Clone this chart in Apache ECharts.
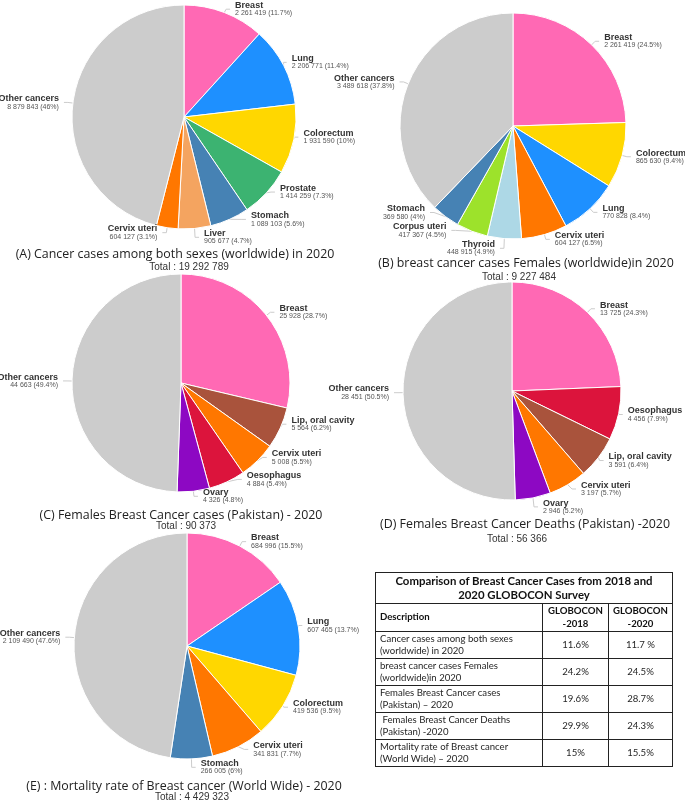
<!DOCTYPE html>
<html>
<head>
<meta charset="utf-8">
<script src="https://cdn.jsdelivr.net/npm/echarts@6/dist/echarts.min.js"></script>
<style>
  html, body { margin: 0; padding: 0; background: #fff; }
  #chart { position: absolute; left: 0; top: 0; width: 685px; height: 801px; }
  #cmp { position: absolute; left: 375px; top: 572px; width: 298px; border-collapse: collapse;
         font-family: Lato, 'Open Sans', sans-serif; color: #262626; border: 1.5px solid #111; }
  #cmp td { border: 1px solid #222; padding: 0 4px; font-size: 9.6px; line-height: 12.5px; }
  #cmp .cap { font-weight: bold; font-size: 11.4px; text-align: center; height: 30px; line-height: 14px; color: #111; }
  #cmp .hd { font-weight: bold; height: 27px; color: #111; }
  #cmp .num { text-align: center; }
  #cmp .row td { height: 26px; }
</style>
</head>
<body>
<div id="chart"></div>
<table id="cmp"></table>
<script>
// A: cancer cases, both sexes, worldwide 2020
var namesA = ['Breast', 'Lung', 'Colorectum', 'Prostate', 'Stomach', 'Liver', 'Cervix uteri', 'Other cancers'];
var valuesA = [2261419, 2206771, 1931590, 1414259, 1089103, 905677, 604127, 8879843];
// B: females worldwide 2020
var namesB = ['Breast', 'Colorectum', 'Lung', 'Cervix uteri', 'Thyroid', 'Corpus uteri', 'Stomach', 'Other cancers'];
var valuesB = [2261419, 865630, 770828, 604127, 448915, 417367, 369580, 3489618];
// C: females cases Pakistan 2020
var namesC = ['Breast', 'Lip, oral cavity', 'Cervix uteri', 'Oesophagus', 'Ovary', 'Other cancers'];
var valuesC = [25928, 5564, 5008, 4884, 4326, 44663];
// D: females deaths Pakistan 2020
var namesD = ['Breast', 'Oesophagus', 'Lip, oral cavity', 'Cervix uteri', 'Ovary', 'Other cancers'];
var valuesD = [13725, 4456, 3591, 3197, 2946, 28451];
// E: mortality worldwide 2020
var namesE = ['Breast', 'Lung', 'Colorectum', 'Cervix uteri', 'Stomach', 'Other cancers'];
var valuesE = [684996, 607465, 419536, 341831, 266005, 2109490];

var chartTitles = [
    '(A) Cancer cases among both sexes (worldwide) in 2020',
    '(B) breast cancer cases Females (worldwide)in 2020',
    '(C) Females Breast Cancer cases (Pakistan) - 2020',
    '(D) Females Breast Cancer Deaths (Pakistan) -2020',
    '(E) : Mortality rate of Breast cancer (World Wide) - 2020'
];

// comparison table
var tableCaption = ['Comparison of Breast Cancer Cases from 2018 and', '2020 GLOBOCON Survey'];
var tableHeader = ['Description', 'GLOBOCON<br>-2018', 'GLOBOCON<br>-2020'];
var tableDesc = [
    'Cancer cases among both sexes (worldwide) in 2020',
    'breast cancer cases Females (worldwide)in 2020',
    'Females Breast Cancer cases (Pakistan) \u2013 2020',
    '\u00a0Females Breast Cancer Deaths (Pakistan) -2020',
    'Mortality rate of Breast cancer (World Wide) \u2013 2020'
];
var table2018 = ['11.6%', '24.2%', '19.6%', '29.9%', '15%'];
var table2020 = ['11.7 %', '24.5%', '28.7%', '24.3%', '15.5%'];

var colorMap = {
    'Breast': '#ff69b4',
    'Lung': '#1e90ff',
    'Colorectum': '#ffd700',
    'Prostate': '#3cb371',
    'Stomach': '#4682b4',
    'Liver': '#f4a460',
    'Cervix uteri': '#ff7700',
    'Other cancers': '#cccccc',
    'Thyroid': '#add8e6',
    'Corpus uteri': '#9de22b',
    'Lip, oral cavity': '#a9533c',
    'Oesophagus': '#dc143c',
    'Ovary': '#8d08c3'
};

// 数字加空格分隔
function fmtNum(v) {
    return String(v).replace(/\B(?=(\d{3})+(?!\d))/g, ' ');
}
function sum(arr) {
    var s = 0;
    for (var i = 0; i < arr.length; i++) { s += arr[i]; }
    return s;
}

// bottom: lowest y the labels may reach (keeps them above the caption)
function makePie(names, values, cx, cy, r, bottom) {
    var total = sum(values);
    var data = [];
    for (var i = 0; i < names.length; i++) {
        data.push({ name: names[i], value: values[i], itemStyle: { color: colorMap[names[i]] } });
    }
    return {
        type: 'pie',
        left: 1,
        top: 0,
        width: 683,
        height: bottom,
        center: [cx - 1, cy],
        radius: r,
        startAngle: 90,
        clockwise: true,
        animation: false,
        itemStyle: { borderColor: '#fff', borderWidth: 1 },
        label: {
            show: true,
            overflow: 'none',
            bleedMargin: 0,
            formatter: function (p) {
                var pct = Math.round(p.value / total * 1000) / 10;
                return '{b|' + p.name + '}\n{c|' + fmtNum(p.value) + ' (' + pct + '%)}';
            },
            rich: {
                b: { fontFamily: 'Liberation Sans, Arial', fontWeight: 'bold', fontSize: 9, color: '#333', lineHeight: 8.4 },
                c: { fontFamily: 'Liberation Sans, Arial', fontSize: 7, color: '#555', lineHeight: 7.4 }
            }
        },
        labelLine: { length: 5, length2: 4, lineStyle: { color: '#ccc', width: 1 } },
        emphasis: { disabled: true },
        data: data
    };
}

function makeTitle(text, x, y, size, color, family) {
    return {
        text: text,
        left: x,
        top: y,
        textAlign: 'center',
        textStyle: { fontFamily: family, fontWeight: 'normal', fontSize: size, color: color }
    };
}

var chart = echarts.init(document.getElementById('chart'), null, { renderer: 'canvas' });
chart.setOption({
    backgroundColor: '#fff',
    title: [
        makeTitle(chartTitles[0], 170, 243, 12.4, '#222', 'Open Sans'),
        makeTitle('Total : ' + fmtNum(sum(valuesA)), 184, 257, 10, '#333', 'Liberation Sans'),
        makeTitle(chartTitles[1], 521, 252, 12.4, '#222', 'Open Sans'),
        makeTitle('Total : ' + fmtNum(sum(valuesB)), 514, 267, 10, '#333', 'Liberation Sans'),
        makeTitle(chartTitles[2], 176, 504, 12.4, '#222', 'Open Sans'),
        makeTitle('Total : ' + fmtNum(sum(valuesC)), 181, 516, 10, '#333', 'Liberation Sans'),
        makeTitle(chartTitles[3], 520, 513, 12.4, '#222', 'Open Sans'),
        makeTitle('Total : ' + fmtNum(sum(valuesD)), 512, 529, 10, '#333', 'Liberation Sans'),
        makeTitle(chartTitles[4], 179, 775, 12.4, '#222', 'Open Sans'),
        makeTitle('Total : ' + fmtNum(sum(valuesE)), 187, 787, 10, '#333', 'Liberation Sans')
    ],
    series: [
        makePie(namesA, valuesA, 184, 117, 112, 246),
        makePie(namesB, valuesB, 513, 126, 113, 257),
        makePie(namesC, valuesC, 181, 383, 109, 506),
        makePie(namesD, valuesD, 512, 391, 109, 517),
        makePie(namesE, valuesE, 187, 646, 113, 776)
    ]
});

// 表格
var html = '<tr><td class="cap" colspan="3">' + tableCaption.join('<br>') + '</td></tr>';
html += '<tr><td class="hd" style="width:158px">' + tableHeader[0] + '</td>' +
    '<td class="hd num" style="width:57px">' + tableHeader[1] + '</td>' +
    '<td class="hd num">' + tableHeader[2] + '</td></tr>';
for (var i = 0; i < tableDesc.length; i++) {
    html += '<tr class="row"><td>' + tableDesc[i] + '</td><td class="num">' + table2018[i] +
        '</td><td class="num">' + table2020[i] + '</td></tr>';
}
document.getElementById('cmp').innerHTML = html;
</script>
</body>
</html>
